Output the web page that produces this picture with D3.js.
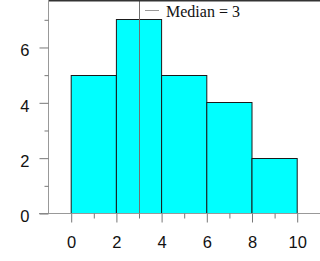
<!DOCTYPE html>
<html>
<head>
<meta charset="utf-8">
<script src="https://cdn.jsdelivr.net/npm/d3@7"></script>
<style>
  body { margin: 0; background: #fff; }
  svg { display: block; }
  .axis text { font-family: "Liberation Sans", Arial, sans-serif; font-size: 16.5px; fill: #111; }
  .axis path { display: none; }
  .axis line { stroke: #777; }
</style>
</head>
<body>
<div id="chart"></div>
<script>
// histogram data
var binEdges = [0, 2, 4, 6, 8, 10];
var counts = [5, 7, 5, 4, 2];
var median = 3;
var legendText = "Median = 3";
var xMajor = [0, 2, 4, 6, 8, 10];
var xMinor = [1, 3, 5, 7, 9];
var yMajor = [0, 2, 4, 6];
var yMinor = [1, 3, 5, 7];

var w = 320, h = 261;
var left = 48, base = 213;

var x = d3.scaleLinear().domain([0, 10]).range([70.7, 296.7]);
var y = d3.scaleLinear().domain([0, 7]).range([base, 19.3]);

var svg = d3.select("#chart").append("svg")
	.attr("width", w)
	.attr("height", h);

var bins = counts.map(function (c, i) {
	return { x0: binEdges[i], x1: binEdges[i + 1], n: c };
});

// bars
svg.append("g").selectAll("rect")
	.data(bins)
	.enter()
	.append("rect")
	.attr("x", d => x(d.x0) + 0.5)
	.attr("y", d => Math.round(y(d.n)) + 0.5)
	.attr("width", d => x(d.x1) - x(d.x0))
	.attr("height", d => base - Math.round(y(d.n)))
	.attr("fill", "#00ffff")
	.attr("stroke", "#1a1a1a")
	.attr("stroke-width", 1);

// median line
svg.append("line")
	.attr("x1", Math.round(x(median)) + 0.5)
	.attr("x2", Math.round(x(median)) + 0.5)
	.attr("y1", 0)
	.attr("y2", base)
	.attr("stroke", "#707070");

// top frame line
svg.append("line")
	.attr("x1", left).attr("x2", w)
	.attr("y1", 0.5).attr("y2", 0.5)
	.attr("stroke", "#333")
	.attr("stroke-width", 2);

// axis lines
svg.append("line")
	.attr("x1", left + 0.5).attr("x2", left + 0.5)
	.attr("y1", 0).attr("y2", base)
	.attr("stroke", "#999");
svg.append("line")
	.attr("x1", 39).attr("x2", w)
	.attr("y1", base + 0.5).attr("y2", base + 0.5)
	.attr("stroke", "#999");

// y axis
var yAxis = d3.axisLeft(y).tickValues(yMajor).tickSize(9).tickPadding(10).tickFormat(d3.format("d"));
svg.append("g")
	.attr("class", "axis")
	.attr("transform", "translate(" + (left + 0.5) + ",3.5)")
	.call(yAxis)
	.selectAll("line").attr("transform", "translate(0,-3)");

svg.append("g")
	.attr("class", "axis")
	.attr("transform", "translate(" + (left + 0.5) + ",0.5)")
	.call(d3.axisLeft(y).tickValues(yMinor).tickSize(4).tickFormat(""));

// x axis
var xAxis = d3.axisBottom(x).tickValues(xMajor).tickSize(9).tickPadding(14).tickFormat(d3.format("d"));
svg.append("g")
	.attr("class", "axis")
	.attr("transform", "translate(0.5," + (base + 0.5) + ")")
	.call(xAxis);

svg.append("g")
	.attr("class", "axis")
	.attr("transform", "translate(0.5," + (base + 0.5) + ")")
	.call(d3.axisBottom(x).tickValues(xMinor).tickSize(5).tickFormat(""));

// legend
svg.append("line")
	.attr("x1", 145).attr("x2", 159)
	.attr("y1", 10.5).attr("y2", 10.5)
	.attr("stroke", "#999");
svg.append("text")
	.attr("x", 166)
	.attr("y", 17)
	.attr("font-family", "Liberation Serif, Times New Roman, serif")
	.attr("font-size", 16)
	.attr("fill", "#111")
	.text(legendText);
</script>
</body>
</html>
